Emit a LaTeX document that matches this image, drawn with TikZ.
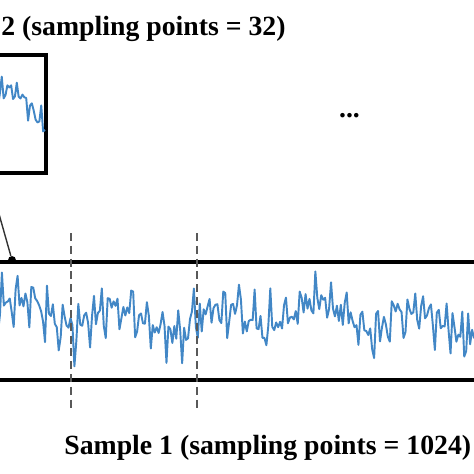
\documentclass[tikz,border=0pt]{standalone}
\usepackage{fontspec}
\setmainfont{Liberation Serif}
\usepackage{xcolor}
\usepackage{tikz}
\usetikzlibrary{arrows,positioning}
\definecolor{sigblue}{RGB}{66,135,198}

\begin{document}
\begin{tikzpicture}[x=0.02cm,y=-0.02cm,
        lbl/.style={font=\fontsize{15.8}{19}\selectfont\bfseries,inner sep=0pt},
        frame/.style={draw=black,line width=1.8pt},
        cut/.style={draw=black!65,line width=0.9pt,dash pattern=on 4.5pt off 2.8pt},
        sig/.style={draw=sigblue,line width=1.1pt,line join=round},
        pin/.style={circle,fill=black,inner sep=0pt,minimum size=4.5pt}]
        \useasboundingbox (0,0) rectangle (474,474);
        \clip (0,0) rectangle (474,474);
        \pgfmathsetseed{17}
        % sample 2 (short window)
        \draw[frame] (-10,55) rectangle (46,173);
        \draw[sig] plot[domain=-2:45,samples=26] (\x,{88+max(0,\x-14)*1.1-(8*sin(47*\x)+6*sin(71*\x+30)+7*rand)});
        \node[lbl,anchor=base west] (t2) at (1,35) {2 (sampling points = 32)};
        \node[lbl,anchor=base] (more) at (349.5,117) {...};
        % sample 1 (long window)
        \draw[frame] (-10,262) rectangle (484,380);
        \draw[sig] plot[domain=-2:476,samples=245] (\x,{318-(13*sin(3.6*\x+20)+6*sin(1.3*\x+50)+9*sin(23*\x)+13*sin(47*mod(\x,7.6596)+10)+8*sin(71*mod(\x,5.0704))+11*rand)});
        \draw[cut] (71,233) -- (71,412);
        \draw[cut] (197,233) -- (197,412);
        \coordinate (from) at (-1,214);
        \node[pin] (to) at (12,260) {};
        \draw[black!80,line width=0.8pt] (from) -- (to);
        \node[lbl,anchor=base west] (t1) at (64,454) {Sample 1 (sampling points = 1024)};
\end{tikzpicture}
\end{document}
